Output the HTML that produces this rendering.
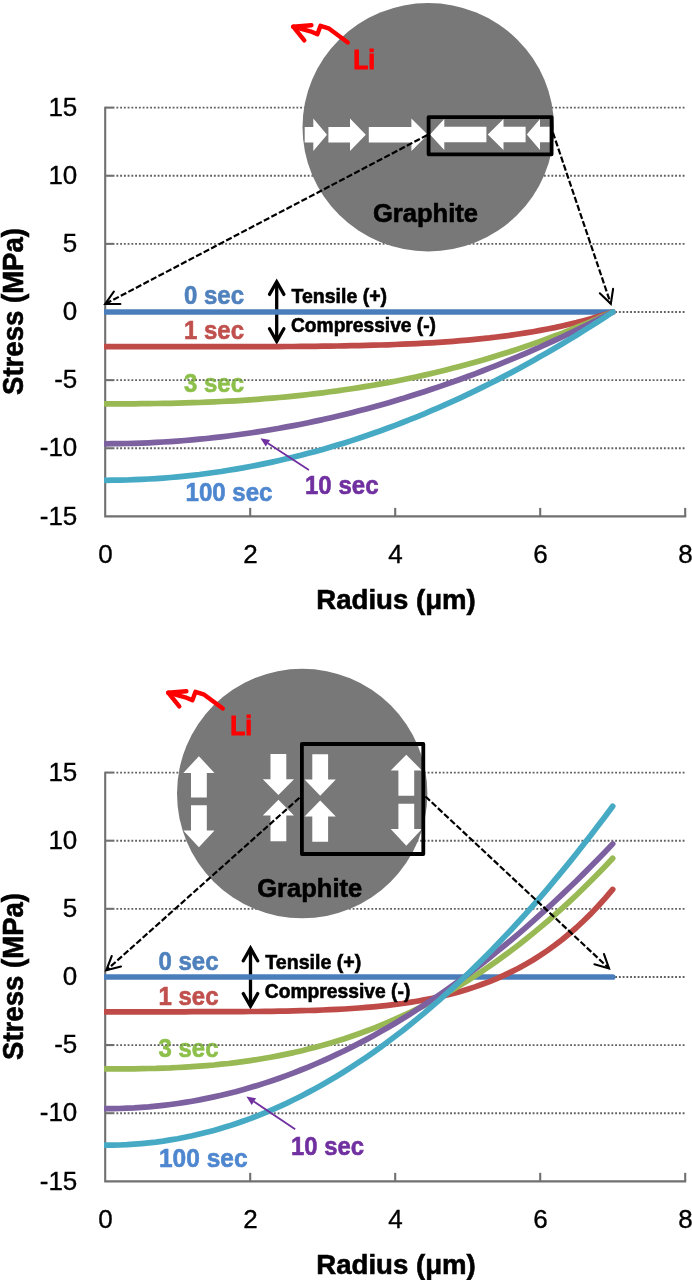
<!DOCTYPE html>
<html><head><meta charset="utf-8"><title>Stress vs radius in graphite particle</title>
<style>
html,body{margin:0;padding:0;background:#fff}
svg{display:block}
text{font-family:"Liberation Sans",sans-serif}
</style></head><body>
<svg width="692" height="1280" viewBox="0 0 692 1280">
<rect width="692" height="1280" fill="#fff"/>
<defs><clipPath id="pc"><rect x="104.1" y="0" width="600" height="1280"/></clipPath><clipPath id="g1"><rect x="182" y="370" width="64" height="20"/></clipPath><clipPath id="g2"><rect x="156" y="1035" width="64" height="20"/></clipPath></defs>
<line x1="114.2" y1="107.625" x2="685" y2="107.625" stroke="#606060" stroke-width="1.85" stroke-dasharray="1.85 1.9" stroke-dashoffset="-2.2"/>
<line x1="105.2" y1="107.625" x2="114.2" y2="107.625" stroke="#707070" stroke-width="2.1"/>
<line x1="114.2" y1="175.75" x2="685" y2="175.75" stroke="#606060" stroke-width="1.85" stroke-dasharray="1.85 1.9" stroke-dashoffset="-2.2"/>
<line x1="105.2" y1="175.75" x2="114.2" y2="175.75" stroke="#707070" stroke-width="2.1"/>
<line x1="114.2" y1="243.875" x2="685" y2="243.875" stroke="#606060" stroke-width="1.85" stroke-dasharray="1.85 1.9" stroke-dashoffset="-2.2"/>
<line x1="105.2" y1="243.875" x2="114.2" y2="243.875" stroke="#707070" stroke-width="2.1"/>
<line x1="114.2" y1="312.0" x2="685" y2="312.0" stroke="#606060" stroke-width="1.85" stroke-dasharray="1.85 1.9" stroke-dashoffset="-2.2"/>
<line x1="105.2" y1="312.0" x2="114.2" y2="312.0" stroke="#707070" stroke-width="2.1"/>
<line x1="114.2" y1="380.125" x2="685" y2="380.125" stroke="#606060" stroke-width="1.85" stroke-dasharray="1.85 1.9" stroke-dashoffset="-2.2"/>
<line x1="105.2" y1="380.125" x2="114.2" y2="380.125" stroke="#707070" stroke-width="2.1"/>
<line x1="114.2" y1="448.25" x2="685" y2="448.25" stroke="#606060" stroke-width="1.85" stroke-dasharray="1.85 1.9" stroke-dashoffset="-2.2"/>
<line x1="105.2" y1="448.25" x2="114.2" y2="448.25" stroke="#707070" stroke-width="2.1"/>
<ellipse cx="428.25" cy="127.25" rx="125.75" ry="124.25" fill="#787878"/>
<path d="M105.2 106.725V516.375H686.2" fill="none" stroke="#707070" stroke-width="2.1"/>
<line x1="250.2" y1="516.375" x2="250.2" y2="507.875" stroke="#707070" stroke-width="2.1"/>
<line x1="395.2" y1="516.375" x2="395.2" y2="507.875" stroke="#707070" stroke-width="2.1"/>
<line x1="540.2" y1="516.375" x2="540.2" y2="507.875" stroke="#707070" stroke-width="2.1"/>
<line x1="685.2" y1="516.375" x2="685.2" y2="507.875" stroke="#707070" stroke-width="2.1"/>
<text x="77.3" y="115.825" font-size="26" text-anchor="end" stroke="#000" stroke-width="0.35">15</text>
<text x="77.3" y="183.95" font-size="26" text-anchor="end" stroke="#000" stroke-width="0.35">10</text>
<text x="77.3" y="252.075" font-size="26" text-anchor="end" stroke="#000" stroke-width="0.35">5</text>
<text x="77.3" y="320.2" font-size="26" text-anchor="end" stroke="#000" stroke-width="0.35">0</text>
<text x="77.3" y="388.325" font-size="26" text-anchor="end" stroke="#000" stroke-width="0.35">-5</text>
<text x="77.3" y="456.45" font-size="26" text-anchor="end" stroke="#000" stroke-width="0.35">-10</text>
<text x="77.3" y="524.575" font-size="26" text-anchor="end" stroke="#000" stroke-width="0.35">-15</text>
<text x="105.5" y="563.375" font-size="26" text-anchor="middle" stroke="#000" stroke-width="0.35">0</text>
<text x="250.5" y="563.375" font-size="26" text-anchor="middle" stroke="#000" stroke-width="0.35">2</text>
<text x="395.5" y="563.375" font-size="26" text-anchor="middle" stroke="#000" stroke-width="0.35">4</text>
<text x="540.5" y="563.375" font-size="26" text-anchor="middle" stroke="#000" stroke-width="0.35">6</text>
<text x="685.5" y="563.375" font-size="26" text-anchor="middle" stroke="#000" stroke-width="0.35">8</text>
<text x="316.3" y="609.375" font-size="28" font-weight="bold" stroke="#000" stroke-width="0.6" textLength="159.5" lengthAdjust="spacingAndGlyphs">Radius (μm)</text>
<text transform="translate(22.8 395.0) rotate(-90)" font-size="29.5" font-weight="bold" stroke="#000" stroke-width="0.6" textLength="167" lengthAdjust="spacingAndGlyphs">Stress (MPa)</text>
<polygon points="304.7,127.00000000000001 313.3,127.00000000000001 313.3,118.50000000000001 327,134.8 313.3,151.10000000000002 313.3,142.60000000000002 304.7,142.60000000000002" fill="#fff"/>
<polygon points="328.4,127.00000000000001 350,127.00000000000001 350,118.50000000000001 365.8,134.8 350,151.10000000000002 350,142.60000000000002 328.4,142.60000000000002" fill="#fff"/>
<polygon points="368.8,127.00000000000001 411.4,127.00000000000001 411.4,118.50000000000001 427.8,134.8 411.4,151.10000000000002 411.4,142.60000000000002 368.8,142.60000000000002" fill="#fff"/>
<polygon points="486.4,126.8 444.3,126.8 444.3,119.0 430,134.5 444.3,150.0 444.3,142.2 486.4,142.2" fill="#fff"/>
<polygon points="525.6,126.8 503.5,126.8 503.5,119.0 487.8,134.5 503.5,150.0 503.5,142.2 525.6,142.2" fill="#fff"/>
<polygon points="549.8,126.8 540,126.8 540,119.0 526.8,134.5 540,150.0 540,142.2 549.8,142.2" fill="#fff"/>
<rect x="428.6" y="117.1" width="123" height="37.2" fill="none" stroke="#000" stroke-width="3.8" stroke-linejoin="round"/>
<text x="373" y="221.6" font-size="25" font-weight="bold" stroke="#000" stroke-width="0.6" textLength="105" lengthAdjust="spacingAndGlyphs">Graphite</text>
<path d="M347.8 42.4L328.6 28.3L320.5 25.8L317.4 34.3L310.3 31.3L293.2 26.7" fill="none" stroke="#f00" stroke-width="4.4" stroke-linecap="round" stroke-linejoin="round"/><path d="M311.4 25.2L293.2 26.7L304.3 40.4" fill="none" stroke="#f00" stroke-width="4.4" stroke-linecap="round" stroke-linejoin="round"/>
<text x="353.3" y="68.8" font-size="28" font-weight="bold" stroke="#f00" stroke-width="1.0" fill="#f00" textLength="21.8" lengthAdjust="spacingAndGlyphs">Li</text>
<line x1="276.7" y1="281.8" x2="276.7" y2="341.4" stroke="#000" stroke-width="3.3"/><path d="M269.5 294.40000000000003L276.7 281.8L283.9 294.40000000000003" fill="none" stroke="#000" stroke-width="3.3" stroke-linecap="round" stroke-linejoin="miter"/><path d="M269.5 328.79999999999995L276.7 341.4L283.9 328.79999999999995" fill="none" stroke="#000" stroke-width="3.3" stroke-linecap="round" stroke-linejoin="miter"/>
<polyline points="105.2,312.0 112.5,312.0 119.7,312.0 127.0,312.0 134.2,312.0 141.4,312.0 148.7,312.0 156.0,312.0 163.2,312.0 170.4,312.0 177.7,312.0 184.9,312.0 192.2,312.0 199.4,312.0 206.7,312.0 213.9,312.0 221.2,312.0 228.5,312.0 235.7,312.0 242.9,312.0 250.2,312.0 257.4,312.0 264.7,312.0 272.0,312.0 279.2,312.0 286.4,312.0 293.7,312.0 300.9,312.0 308.2,312.0 315.5,312.0 322.7,312.0 329.9,312.0 337.2,312.0 344.5,312.0 351.7,312.0 358.9,312.0 366.2,312.0 373.4,312.0 380.7,312.0 387.9,312.0 395.2,312.0 402.5,312.0 409.7,312.0 416.9,312.0 424.2,312.0 431.4,312.0 438.7,312.0 445.9,312.0 453.2,312.0 460.4,312.0 467.7,312.0 475.0,312.0 482.2,312.0 489.5,312.0 496.7,312.0 503.9,312.0 511.2,312.0 518.5,312.0 525.7,312.0 533.0,312.0 540.2,312.0 547.5,312.0 554.7,312.0 562.0,312.0 569.2,312.0 576.5,312.0 583.7,312.0 591.0,312.0 598.2,312.0 605.5,312.0 612.7,312.0" fill="none" stroke="#4a7ebb" stroke-width="5.7" stroke-linecap="round" stroke-linejoin="round" clip-path="url(#pc)"/>
<polyline points="105.2,346.7 112.5,346.7 119.7,346.7 127.0,346.7 134.2,346.7 141.4,346.7 148.7,346.7 156.0,346.7 163.2,346.7 170.4,346.7 177.7,346.7 184.9,346.7 192.2,346.7 199.4,346.7 206.7,346.7 213.9,346.7 221.2,346.7 228.5,346.7 235.7,346.7 242.9,346.7 250.2,346.7 257.4,346.6 264.7,346.6 272.0,346.6 279.2,346.6 286.4,346.5 293.7,346.5 300.9,346.4 308.2,346.4 315.5,346.3 322.7,346.2 329.9,346.1 337.2,346.0 344.5,345.9 351.7,345.7 358.9,345.6 366.2,345.4 373.4,345.2 380.7,345.0 387.9,344.8 395.2,344.5 402.5,344.2 409.7,343.9 416.9,343.6 424.2,343.2 431.4,342.8 438.7,342.3 445.9,341.8 453.2,341.3 460.4,340.7 467.7,340.1 475.0,339.4 482.2,338.6 489.5,337.9 496.7,337.0 503.9,336.1 511.2,335.1 518.5,334.0 525.7,332.9 533.0,331.7 540.2,330.4 547.5,329.0 554.7,327.6 562.0,326.0 569.2,324.3 576.5,322.6 583.7,320.7 591.0,318.7 598.2,316.6 605.5,314.4 612.7,312.0" fill="none" stroke="#be4b48" stroke-width="5.7" stroke-linecap="round" stroke-linejoin="round" clip-path="url(#pc)"/>
<polyline points="105.2,403.8 112.5,403.8 119.7,403.8 127.0,403.8 134.2,403.8 141.4,403.7 148.7,403.6 156.0,403.5 163.2,403.4 170.4,403.3 177.7,403.1 184.9,402.9 192.2,402.7 199.4,402.5 206.7,402.2 213.9,401.9 221.2,401.5 228.5,401.2 235.7,400.8 242.9,400.3 250.2,399.8 257.4,399.3 264.7,398.7 272.0,398.1 279.2,397.5 286.4,396.8 293.7,396.1 300.9,395.3 308.2,394.5 315.5,393.7 322.7,392.8 329.9,391.8 337.2,390.9 344.5,389.8 351.7,388.7 358.9,387.6 366.2,386.4 373.4,385.2 380.7,383.9 387.9,382.6 395.2,381.2 402.5,379.7 409.7,378.2 416.9,376.7 424.2,375.1 431.4,373.4 438.7,371.7 445.9,369.9 453.2,368.1 460.4,366.2 467.7,364.2 475.0,362.2 482.2,360.2 489.5,358.0 496.7,355.8 503.9,353.6 511.2,351.3 518.5,348.9 525.7,346.4 533.0,343.9 540.2,341.4 547.5,338.7 554.7,336.0 562.0,333.3 569.2,330.4 576.5,327.5 583.7,324.6 591.0,321.5 598.2,318.4 605.5,315.2 612.7,312.0" fill="none" stroke="#98b954" stroke-width="5.7" stroke-linecap="round" stroke-linejoin="round" clip-path="url(#pc)"/>
<polyline points="105.2,443.8 112.5,443.7 119.7,443.6 127.0,443.5 134.2,443.3 141.4,443.1 148.7,442.8 156.0,442.4 163.2,442.0 170.4,441.6 177.7,441.1 184.9,440.5 192.2,439.9 199.4,439.2 206.7,438.5 213.9,437.7 221.2,436.9 228.5,436.0 235.7,435.0 242.9,434.0 250.2,433.0 257.4,431.9 264.7,430.7 272.0,429.5 279.2,428.3 286.4,426.9 293.7,425.6 300.9,424.2 308.2,422.7 315.5,421.1 322.7,419.6 329.9,417.9 337.2,416.2 344.5,414.5 351.7,412.7 358.9,410.8 366.2,408.9 373.4,406.9 380.7,404.9 387.9,402.9 395.2,400.7 402.5,398.6 409.7,396.3 416.9,394.0 424.2,391.7 431.4,389.3 438.7,386.9 445.9,384.4 453.2,381.8 460.4,379.2 467.7,376.5 475.0,373.8 482.2,371.0 489.5,368.2 496.7,365.3 503.9,362.4 511.2,359.4 518.5,356.4 525.7,353.3 533.0,350.2 540.2,347.0 547.5,343.7 554.7,340.4 562.0,337.0 569.2,333.6 576.5,330.1 583.7,326.6 591.0,323.1 598.2,319.4 605.5,315.7 612.7,312.0" fill="none" stroke="#7d60a0" stroke-width="5.7" stroke-linecap="round" stroke-linejoin="round" clip-path="url(#pc)"/>
<polyline points="105.2,480.3 112.5,480.2 119.7,480.1 127.0,480.0 134.2,479.7 141.4,479.4 148.7,479.0 156.0,478.6 163.2,478.1 170.4,477.5 177.7,476.8 184.9,476.1 192.2,475.3 199.4,474.5 206.7,473.5 213.9,472.5 221.2,471.5 228.5,470.3 235.7,469.1 242.9,467.9 250.2,466.5 257.4,465.1 264.7,463.6 272.0,462.1 279.2,460.5 286.4,458.8 293.7,457.1 300.9,455.2 308.2,453.3 315.5,451.4 322.7,449.4 329.9,447.3 337.2,445.1 344.5,442.9 351.7,440.6 358.9,438.2 366.2,435.8 373.4,433.3 380.7,430.7 387.9,428.0 395.2,425.3 402.5,422.5 409.7,419.7 416.9,416.8 424.2,413.8 431.4,410.7 438.7,407.6 445.9,404.4 453.2,401.1 460.4,397.8 467.7,394.4 475.0,390.9 482.2,387.4 489.5,383.8 496.7,380.1 503.9,376.4 511.2,372.6 518.5,368.7 525.7,364.7 533.0,360.7 540.2,356.6 547.5,352.5 554.7,348.3 562.0,344.0 569.2,339.6 576.5,335.2 583.7,330.7 591.0,326.1 598.2,321.5 605.5,316.8 612.7,312.0" fill="none" stroke="#46aac5" stroke-width="5.7" stroke-linecap="round" stroke-linejoin="round" clip-path="url(#pc)"/>
<text x="184" y="303.6" font-size="26" font-weight="bold" stroke="#4f81bd" stroke-width="0.6" fill="#4f81bd" textLength="60" lengthAdjust="spacingAndGlyphs">0 sec</text>
<text x="184" y="338.6" font-size="26" font-weight="bold" stroke="#c0504d" stroke-width="0.6" fill="#c0504d" textLength="60" lengthAdjust="spacingAndGlyphs">1 sec</text>
<text x="184" y="391.8" font-size="26" font-weight="bold" stroke="#8dc04a" stroke-width="0.6" fill="#8dc04a" textLength="60" lengthAdjust="spacingAndGlyphs">3 sec</text>
<line x1="114.2" y1="380.125" x2="685" y2="380.125" stroke="#606060" stroke-width="1.85" stroke-dasharray="1.85 1.9" stroke-dashoffset="-2.2" opacity="0.55" clip-path="url(#g1)"/>
<text x="185.5" y="501.3" font-size="26" font-weight="bold" stroke="#4e87cf" stroke-width="0.6" fill="#4e87cf" textLength="87" lengthAdjust="spacingAndGlyphs">100 sec</text>
<text x="305" y="493.7" font-size="26" font-weight="bold" stroke="#7030a0" stroke-width="0.6" fill="#7030a0" textLength="73.5" lengthAdjust="spacingAndGlyphs">10 sec</text>
<text x="291.5" y="303.3" font-size="20.2" font-weight="bold" stroke="#000" stroke-width="0.6" textLength="95.5" lengthAdjust="spacingAndGlyphs">Tensile (+)</text>
<text x="291" y="332.2" font-size="20.2" font-weight="bold" stroke="#000" stroke-width="0.6" textLength="145" lengthAdjust="spacingAndGlyphs">Compressive (-)</text>
<line x1="308.9" y1="469.9" x2="267.9" y2="443.2" stroke="#7030a0" stroke-width="1.8"/><polygon points="260.4,438.3 270.1,439.9 265.8,446.6" fill="#7030a0"/>
<line x1="427.4" y1="135" x2="105.2" y2="304" stroke="#000" stroke-width="2.2" stroke-dasharray="6.2 2.3"/><path d="M113.9 291.5L105.2 304.0L120.4 304.0" fill="none" stroke="#000" stroke-width="2.1" stroke-linecap="round" stroke-linejoin="miter"/>
<line x1="552.9" y1="132.5" x2="610.8" y2="303.8" stroke="#000" stroke-width="2.2" stroke-dasharray="6.2 2.3"/><path d="M599.8 293.3L610.8 303.8L613.1 288.8" fill="none" stroke="#000" stroke-width="2.1" stroke-linecap="round" stroke-linejoin="miter"/>
<line x1="114.2" y1="772.575" x2="685" y2="772.575" stroke="#606060" stroke-width="1.85" stroke-dasharray="1.85 1.9" stroke-dashoffset="-2.2"/>
<line x1="105.2" y1="772.575" x2="114.2" y2="772.575" stroke="#707070" stroke-width="2.1"/>
<line x1="114.2" y1="840.7" x2="685" y2="840.7" stroke="#606060" stroke-width="1.85" stroke-dasharray="1.85 1.9" stroke-dashoffset="-2.2"/>
<line x1="105.2" y1="840.7" x2="114.2" y2="840.7" stroke="#707070" stroke-width="2.1"/>
<line x1="114.2" y1="908.825" x2="685" y2="908.825" stroke="#606060" stroke-width="1.85" stroke-dasharray="1.85 1.9" stroke-dashoffset="-2.2"/>
<line x1="105.2" y1="908.825" x2="114.2" y2="908.825" stroke="#707070" stroke-width="2.1"/>
<line x1="114.2" y1="976.95" x2="685" y2="976.95" stroke="#606060" stroke-width="1.85" stroke-dasharray="1.85 1.9" stroke-dashoffset="-2.2"/>
<line x1="105.2" y1="976.95" x2="114.2" y2="976.95" stroke="#707070" stroke-width="2.1"/>
<line x1="114.2" y1="1045.075" x2="685" y2="1045.075" stroke="#606060" stroke-width="1.85" stroke-dasharray="1.85 1.9" stroke-dashoffset="-2.2"/>
<line x1="105.2" y1="1045.075" x2="114.2" y2="1045.075" stroke="#707070" stroke-width="2.1"/>
<line x1="114.2" y1="1113.2" x2="685" y2="1113.2" stroke="#606060" stroke-width="1.85" stroke-dasharray="1.85 1.9" stroke-dashoffset="-2.2"/>
<line x1="105.2" y1="1113.2" x2="114.2" y2="1113.2" stroke="#707070" stroke-width="2.1"/>
<ellipse cx="302.2" cy="793.55" rx="125.2" ry="124.75" fill="#787878"/>
<path d="M105.2 771.6750000000001V1181.325H686.2" fill="none" stroke="#707070" stroke-width="2.1"/>
<line x1="250.2" y1="1181.325" x2="250.2" y2="1172.825" stroke="#707070" stroke-width="2.1"/>
<line x1="395.2" y1="1181.325" x2="395.2" y2="1172.825" stroke="#707070" stroke-width="2.1"/>
<line x1="540.2" y1="1181.325" x2="540.2" y2="1172.825" stroke="#707070" stroke-width="2.1"/>
<line x1="685.2" y1="1181.325" x2="685.2" y2="1172.825" stroke="#707070" stroke-width="2.1"/>
<text x="77.3" y="780.7750000000001" font-size="26" text-anchor="end" stroke="#000" stroke-width="0.35">15</text>
<text x="77.3" y="848.9000000000001" font-size="26" text-anchor="end" stroke="#000" stroke-width="0.35">10</text>
<text x="77.3" y="917.0250000000001" font-size="26" text-anchor="end" stroke="#000" stroke-width="0.35">5</text>
<text x="77.3" y="985.1500000000001" font-size="26" text-anchor="end" stroke="#000" stroke-width="0.35">0</text>
<text x="77.3" y="1053.275" font-size="26" text-anchor="end" stroke="#000" stroke-width="0.35">-5</text>
<text x="77.3" y="1121.4" font-size="26" text-anchor="end" stroke="#000" stroke-width="0.35">-10</text>
<text x="77.3" y="1189.525" font-size="26" text-anchor="end" stroke="#000" stroke-width="0.35">-15</text>
<text x="105.5" y="1228.325" font-size="26" text-anchor="middle" stroke="#000" stroke-width="0.35">0</text>
<text x="250.5" y="1228.325" font-size="26" text-anchor="middle" stroke="#000" stroke-width="0.35">2</text>
<text x="395.5" y="1228.325" font-size="26" text-anchor="middle" stroke="#000" stroke-width="0.35">4</text>
<text x="540.5" y="1228.325" font-size="26" text-anchor="middle" stroke="#000" stroke-width="0.35">6</text>
<text x="685.5" y="1228.325" font-size="26" text-anchor="middle" stroke="#000" stroke-width="0.35">8</text>
<text x="316.3" y="1274.325" font-size="28" font-weight="bold" stroke="#000" stroke-width="0.6" textLength="159.5" lengthAdjust="spacingAndGlyphs">Radius (μm)</text>
<text transform="translate(22.8 1059.95) rotate(-90)" font-size="29.5" font-weight="bold" stroke="#000" stroke-width="0.6" textLength="167" lengthAdjust="spacingAndGlyphs">Stress (MPa)</text>
<polygon points="191.0,797.4 191.0,772.9 183.3,772.9 198.9,756.3 214.5,772.9 206.8,772.9 206.8,797.4" fill="#fff"/>
<polygon points="191.0,805.3 191.0,830.5 183.3,830.5 198.9,847.3 214.5,830.5 206.8,830.5 206.8,805.3" fill="#fff"/>
<polygon points="270.5,753.9 270.5,779.2 262.79999999999995,779.2 278.4,795.1 294.0,779.2 286.29999999999995,779.2 286.29999999999995,753.9" fill="#fff"/>
<polygon points="270.5,841.3 270.5,815.4 262.79999999999995,815.4 278.4,799.8 294.0,815.4 286.29999999999995,815.4 286.29999999999995,841.3" fill="#fff"/>
<polygon points="312.3,754.3 312.3,779.6 304.59999999999997,779.6 320.2,795.7 335.8,779.6 328.09999999999997,779.6 328.09999999999997,754.3" fill="#fff"/>
<polygon points="312.3,841.7 312.3,816.6 304.59999999999997,816.6 320.2,800.4 335.8,816.6 328.09999999999997,816.6 328.09999999999997,841.7" fill="#fff"/>
<polygon points="398.40000000000003,795.7 398.40000000000003,770.5 390.7,770.5 406.3,754.7 421.90000000000003,770.5 414.2,770.5 414.2,795.7" fill="#fff"/>
<polygon points="398.40000000000003,803.8 398.40000000000003,829.1 390.7,829.1 406.3,845.7 421.90000000000003,829.1 414.2,829.1 414.2,803.8" fill="#fff"/>
<rect x="301.9" y="744" width="121.4" height="110" fill="none" stroke="#000" stroke-width="3.8" stroke-linejoin="round"/>
<text x="257.2" y="897.3" font-size="25" font-weight="bold" stroke="#000" stroke-width="0.6" textLength="105" lengthAdjust="spacingAndGlyphs">Graphite</text>
<path d="M222.8 708.4L203.6 694.3L195.5 691.8L192.4 700.3L185.3 697.3L168.2 692.7" fill="none" stroke="#f00" stroke-width="4.4" stroke-linecap="round" stroke-linejoin="round"/><path d="M186.4 691.2L168.2 692.7L179.3 706.4" fill="none" stroke="#f00" stroke-width="4.4" stroke-linecap="round" stroke-linejoin="round"/>
<text x="230.3" y="735.1" font-size="28" font-weight="bold" stroke="#f00" stroke-width="1.0" fill="#f00" textLength="21.8" lengthAdjust="spacingAndGlyphs">Li</text>
<line x1="250.5" y1="948.2" x2="250.5" y2="1006.2" stroke="#000" stroke-width="3.3"/><path d="M243.3 960.8000000000001L250.5 948.2L257.7 960.8000000000001" fill="none" stroke="#000" stroke-width="3.3" stroke-linecap="round" stroke-linejoin="miter"/><path d="M243.3 993.6L250.5 1006.2L257.7 993.6" fill="none" stroke="#000" stroke-width="3.3" stroke-linecap="round" stroke-linejoin="miter"/>
<polyline points="105.2,977.0 112.5,977.0 119.7,977.0 127.0,977.0 134.2,977.0 141.4,977.0 148.7,977.0 156.0,977.0 163.2,977.0 170.4,977.0 177.7,977.0 184.9,977.0 192.2,977.0 199.4,977.0 206.7,977.0 213.9,977.0 221.2,977.0 228.5,977.0 235.7,977.0 242.9,977.0 250.2,977.0 257.4,977.0 264.7,977.0 272.0,977.0 279.2,977.0 286.4,977.0 293.7,977.0 300.9,977.0 308.2,977.0 315.5,977.0 322.7,977.0 329.9,977.0 337.2,977.0 344.5,977.0 351.7,977.0 358.9,977.0 366.2,977.0 373.4,977.0 380.7,977.0 387.9,977.0 395.2,977.0 402.5,977.0 409.7,977.0 416.9,977.0 424.2,977.0 431.4,977.0 438.7,977.0 445.9,977.0 453.2,977.0 460.4,977.0 467.7,977.0 475.0,977.0 482.2,977.0 489.5,977.0 496.7,977.0 503.9,977.0 511.2,977.0 518.5,977.0 525.7,977.0 533.0,977.0 540.2,977.0 547.5,977.0 554.7,977.0 562.0,977.0 569.2,977.0 576.5,977.0 583.7,977.0 591.0,977.0 598.2,977.0 605.5,977.0 612.7,977.0" fill="none" stroke="#4a7ebb" stroke-width="5.7" stroke-linecap="round" stroke-linejoin="round" clip-path="url(#pc)"/>
<polyline points="105.2,1011.8 112.5,1011.8 119.7,1011.8 127.0,1011.8 134.2,1011.8 141.4,1011.8 148.7,1011.8 156.0,1011.8 163.2,1011.8 170.4,1011.8 177.7,1011.8 184.9,1011.8 192.2,1011.7 199.4,1011.7 206.7,1011.7 213.9,1011.7 221.2,1011.7 228.5,1011.7 235.7,1011.6 242.9,1011.6 250.2,1011.5 257.4,1011.5 264.7,1011.4 272.0,1011.3 279.2,1011.2 286.4,1011.1 293.7,1010.9 300.9,1010.7 308.2,1010.5 315.5,1010.3 322.7,1010.0 329.9,1009.7 337.2,1009.4 344.5,1009.0 351.7,1008.5 358.9,1008.0 366.2,1007.4 373.4,1006.8 380.7,1006.1 387.9,1005.3 395.2,1004.4 402.5,1003.5 409.7,1002.4 416.9,1001.2 424.2,999.9 431.4,998.5 438.7,997.0 445.9,995.3 453.2,993.4 460.4,991.4 467.7,989.2 475.0,986.9 482.2,984.3 489.5,981.6 496.7,978.6 503.9,975.4 511.2,971.9 518.5,968.2 525.7,964.2 533.0,960.0 540.2,955.4 547.5,950.5 554.7,945.3 562.0,939.7 569.2,933.8 576.5,927.5 583.7,920.7 591.0,913.6 598.2,906.0 605.5,897.9 612.7,889.4" fill="none" stroke="#be4b48" stroke-width="5.7" stroke-linecap="round" stroke-linejoin="round" clip-path="url(#pc)"/>
<polyline points="105.2,1068.9 112.5,1068.9 119.7,1068.9 127.0,1068.9 134.2,1068.8 141.4,1068.7 148.7,1068.5 156.0,1068.4 163.2,1068.1 170.4,1067.9 177.7,1067.5 184.9,1067.1 192.2,1066.7 199.4,1066.2 206.7,1065.6 213.9,1065.0 221.2,1064.2 228.5,1063.5 235.7,1062.6 242.9,1061.6 250.2,1060.6 257.4,1059.5 264.7,1058.3 272.0,1057.0 279.2,1055.6 286.4,1054.1 293.7,1052.6 300.9,1050.9 308.2,1049.1 315.5,1047.2 322.7,1045.3 329.9,1043.2 337.2,1041.0 344.5,1038.7 351.7,1036.2 358.9,1033.7 366.2,1031.0 373.4,1028.3 380.7,1025.4 387.9,1022.4 395.2,1019.2 402.5,1015.9 409.7,1012.5 416.9,1009.0 424.2,1005.4 431.4,1001.6 438.7,997.6 445.9,993.6 453.2,989.4 460.4,985.0 467.7,980.5 475.0,975.9 482.2,971.1 489.5,966.2 496.7,961.1 503.9,955.9 511.2,950.5 518.5,945.0 525.7,939.3 533.0,933.4 540.2,927.4 547.5,921.3 554.7,914.9 562.0,908.4 569.2,901.8 576.5,895.0 583.7,888.0 591.0,880.8 598.2,873.5 605.5,866.0 612.7,858.3" fill="none" stroke="#98b954" stroke-width="5.7" stroke-linecap="round" stroke-linejoin="round" clip-path="url(#pc)"/>
<polyline points="105.2,1108.7 112.5,1108.7 119.7,1108.5 127.0,1108.2 134.2,1107.9 141.4,1107.4 148.7,1106.9 156.0,1106.2 163.2,1105.4 170.4,1104.5 177.7,1103.5 184.9,1102.4 192.2,1101.2 199.4,1099.9 206.7,1098.4 213.9,1096.9 221.2,1095.3 228.5,1093.5 235.7,1091.7 242.9,1089.7 250.2,1087.6 257.4,1085.4 264.7,1083.1 272.0,1080.7 279.2,1078.2 286.4,1075.6 293.7,1072.9 300.9,1070.0 308.2,1067.1 315.5,1064.0 322.7,1060.9 329.9,1057.6 337.2,1054.2 344.5,1050.7 351.7,1047.1 358.9,1043.4 366.2,1039.6 373.4,1035.7 380.7,1031.6 387.9,1027.5 395.2,1023.2 402.5,1018.8 409.7,1014.3 416.9,1009.7 424.2,1005.0 431.4,1000.2 438.7,995.3 445.9,990.3 453.2,985.1 460.4,979.9 467.7,974.5 475.0,969.0 482.2,963.4 489.5,957.7 496.7,951.9 503.9,946.0 511.2,940.0 518.5,933.8 525.7,927.6 533.0,921.2 540.2,914.7 547.5,908.2 554.7,901.5 562.0,894.6 569.2,887.7 576.5,880.7 583.7,873.6 591.0,866.3 598.2,858.9 605.5,851.5 612.7,843.9" fill="none" stroke="#7d60a0" stroke-width="5.7" stroke-linecap="round" stroke-linejoin="round" clip-path="url(#pc)"/>
<polyline points="105.2,1145.2 112.5,1145.2 119.7,1145.0 127.0,1144.7 134.2,1144.2 141.4,1143.6 148.7,1142.9 156.0,1142.1 163.2,1141.1 170.4,1139.9 177.7,1138.7 184.9,1137.3 192.2,1135.8 199.4,1134.1 206.7,1132.3 213.9,1130.4 221.2,1128.3 228.5,1126.1 235.7,1123.7 242.9,1121.2 250.2,1118.6 257.4,1115.8 264.7,1112.9 272.0,1109.8 279.2,1106.6 286.4,1103.3 293.7,1099.8 300.9,1096.2 308.2,1092.4 315.5,1088.5 322.7,1084.5 329.9,1080.3 337.2,1076.0 344.5,1071.5 351.7,1066.9 358.9,1062.2 366.2,1057.3 373.4,1052.3 380.7,1047.1 387.9,1041.8 395.2,1036.3 402.5,1030.8 409.7,1025.0 416.9,1019.1 424.2,1013.1 431.4,1006.9 438.7,1000.6 445.9,994.2 453.2,987.6 460.4,980.8 467.7,974.0 475.0,966.9 482.2,959.8 489.5,952.5 496.7,945.0 503.9,937.4 511.2,929.7 518.5,921.8 525.7,913.8 533.0,905.6 540.2,897.3 547.5,888.8 554.7,880.2 562.0,871.4 569.2,862.6 576.5,853.5 583.7,844.3 591.0,835.0 598.2,825.5 605.5,815.9 612.7,806.2" fill="none" stroke="#46aac5" stroke-width="5.7" stroke-linecap="round" stroke-linejoin="round" clip-path="url(#pc)"/>
<text x="158.5" y="970.4" font-size="26" font-weight="bold" stroke="#4f81bd" stroke-width="0.6" fill="#4f81bd" textLength="60" lengthAdjust="spacingAndGlyphs">0 sec</text>
<text x="158.5" y="1005.4" font-size="26" font-weight="bold" stroke="#c0504d" stroke-width="0.6" fill="#c0504d" textLength="60" lengthAdjust="spacingAndGlyphs">1 sec</text>
<text x="158.5" y="1056.7" font-size="26" font-weight="bold" stroke="#8dc04a" stroke-width="0.6" fill="#8dc04a" textLength="60" lengthAdjust="spacingAndGlyphs">3 sec</text>
<line x1="114.2" y1="1045.075" x2="685" y2="1045.075" stroke="#606060" stroke-width="1.85" stroke-dasharray="1.85 1.9" stroke-dashoffset="-2.2" opacity="0.55" clip-path="url(#g2)"/>
<text x="159" y="1167.4" font-size="26" font-weight="bold" stroke="#4e87cf" stroke-width="0.6" fill="#4e87cf" textLength="88.5" lengthAdjust="spacingAndGlyphs">100 sec</text>
<text x="291" y="1154.8" font-size="26" font-weight="bold" stroke="#7030a0" stroke-width="0.6" fill="#7030a0" textLength="73" lengthAdjust="spacingAndGlyphs">10 sec</text>
<text x="265.3" y="969" font-size="20.2" font-weight="bold" stroke="#000" stroke-width="0.6" textLength="96" lengthAdjust="spacingAndGlyphs">Tensile (+)</text>
<text x="264.8" y="997.9" font-size="20.2" font-weight="bold" stroke="#000" stroke-width="0.6" textLength="145.5" lengthAdjust="spacingAndGlyphs">Compressive (-)</text>
<line x1="295.2" y1="1129.2" x2="253.9" y2="1101.6" stroke="#7030a0" stroke-width="1.8"/><polygon points="246.4,1096.6 256.1,1098.3 251.7,1104.9" fill="#7030a0"/>
<line x1="299.5" y1="797.8" x2="106.3" y2="970.3" stroke="#000" stroke-width="2.2" stroke-dasharray="6.2 2.3"/><path d="M111.7 956.1L106.3 970.3L121.0 966.6" fill="none" stroke="#000" stroke-width="2.1" stroke-linecap="round" stroke-linejoin="miter"/>
<line x1="425.5" y1="796.5" x2="609" y2="968.4" stroke="#000" stroke-width="2.2" stroke-dasharray="6.2 2.3"/><path d="M594.4 964.3L609.0 968.4L604.0 954.1" fill="none" stroke="#000" stroke-width="2.1" stroke-linecap="round" stroke-linejoin="miter"/>
</svg></body></html>
